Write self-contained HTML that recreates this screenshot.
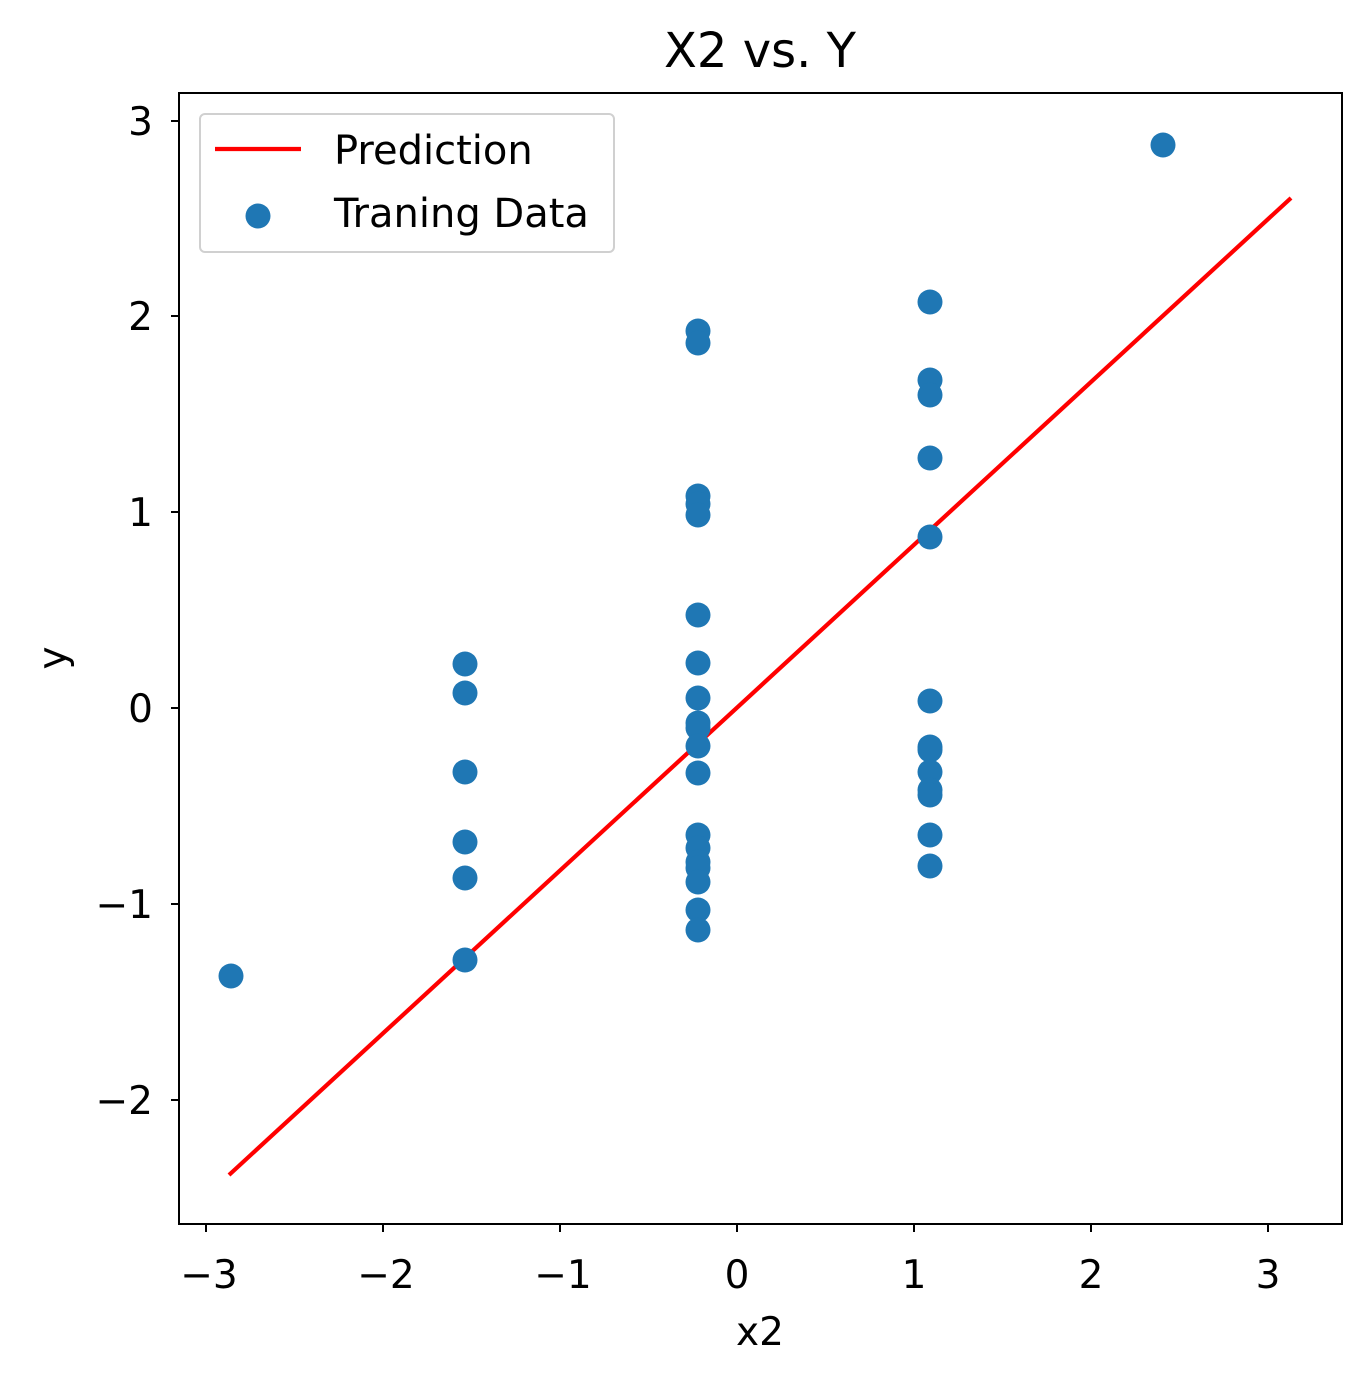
<!DOCTYPE html>
<html><head><meta charset="utf-8"><style>
html,body{margin:0;padding:0;background:#fff}
svg{display:block}
text{font-family:"DejaVu Sans","Liberation Sans",sans-serif;fill:#000}
</style></head><body>
<svg width="1371" height="1385" viewBox="0 0 1371 1385" xmlns="http://www.w3.org/2000/svg">
<rect width="1371" height="1385" fill="#fff"/>
<text x="760" y="67" font-size="48" text-anchor="middle">X2 vs. Y</text>
<g stroke="#000" stroke-width="2">
<line x1="206" y1="1224" x2="206" y2="1232"/><line x1="383" y1="1224" x2="383" y2="1232"/><line x1="560" y1="1224" x2="560" y2="1232"/><line x1="737" y1="1224" x2="737" y2="1232"/><line x1="914" y1="1224" x2="914" y2="1232"/><line x1="1091" y1="1224" x2="1091" y2="1232"/><line x1="1268" y1="1224" x2="1268" y2="1232"/>
<line x1="171" y1="121" x2="179" y2="121"/><line x1="171" y1="316" x2="179" y2="316"/><line x1="171" y1="512" x2="179" y2="512"/><line x1="171" y1="708" x2="179" y2="708"/><line x1="171" y1="904" x2="179" y2="904"/><line x1="171" y1="1100" x2="179" y2="1100"/>
</g>
<g font-size="39" text-anchor="middle">
<text x="209" y="1288">−3</text><text x="386" y="1288">−2</text><text x="563" y="1288">−1</text><text x="737" y="1288">0</text><text x="914" y="1288">1</text><text x="1091" y="1288">2</text><text x="1268" y="1288">3</text>
<text x="760" y="1345">x2</text>
</g>
<g font-size="39" text-anchor="end">
<text x="153" y="135">3</text><text x="153" y="330">2</text><text x="153" y="526">1</text><text x="153" y="722">0</text><text x="153" y="918">−1</text><text x="153" y="1114">−2</text>
</g>
<text x="66" y="658" font-size="39" text-anchor="middle" transform="rotate(-90 66 658)">y</text>
<line x1="229" y1="1175" x2="1291" y2="198" stroke="#ff0000" stroke-width="4.2"/>
<g fill="#1f77b4">
<circle cx="231" cy="976" r="12.5"/><circle cx="1163" cy="145" r="12.5"/>
<circle cx="465" cy="664" r="12.5"/><circle cx="465" cy="693" r="12.5"/><circle cx="465" cy="772" r="12.5"/><circle cx="465" cy="842" r="12.5"/><circle cx="465" cy="878" r="12.5"/><circle cx="465" cy="960" r="12.5"/>
<circle cx="698" cy="331" r="12.5"/><circle cx="698" cy="343" r="12.5"/><circle cx="698" cy="496" r="12.5"/><circle cx="698" cy="504" r="12.5"/><circle cx="698" cy="515" r="12.5"/><circle cx="698" cy="615" r="12.5"/><circle cx="698" cy="663" r="12.5"/><circle cx="698" cy="698" r="12.5"/><circle cx="698" cy="723" r="12.5"/><circle cx="698" cy="728" r="12.5"/><circle cx="698" cy="746" r="12.5"/><circle cx="698" cy="773" r="12.5"/><circle cx="698" cy="835" r="12.5"/><circle cx="698" cy="848" r="12.5"/><circle cx="698" cy="862" r="12.5"/><circle cx="698" cy="868" r="12.5"/><circle cx="698" cy="882" r="12.5"/><circle cx="698" cy="910" r="12.5"/><circle cx="698" cy="930" r="12.5"/>
<circle cx="930" cy="302" r="12.5"/><circle cx="930" cy="380" r="12.5"/><circle cx="930" cy="395" r="12.5"/><circle cx="930" cy="458" r="12.5"/><circle cx="930" cy="537" r="12.5"/><circle cx="930" cy="701" r="12.5"/><circle cx="930" cy="747" r="12.5"/><circle cx="930" cy="750" r="12.5"/><circle cx="930" cy="772" r="12.5"/><circle cx="930" cy="790" r="12.5"/><circle cx="930" cy="795" r="12.5"/><circle cx="930" cy="835" r="12.5"/><circle cx="930" cy="866" r="12.5"/>
</g>
<rect x="179" y="93" width="1163" height="1131" fill="none" stroke="#000" stroke-width="2"/>
<rect x="200" y="114" width="414" height="138" rx="5" fill="#fff" fill-opacity="0.8" stroke="#d0d0d0" stroke-width="2"/>
<line x1="215" y1="149" x2="301" y2="149" stroke="#ff0000" stroke-width="4.2"/>
<circle cx="258" cy="216" r="12.5" fill="#1f77b4"/>
<text x="334" y="164" font-size="40">Prediction</text>
<text x="334" y="227" font-size="40">Traning Data</text>
</svg>
</body></html>
